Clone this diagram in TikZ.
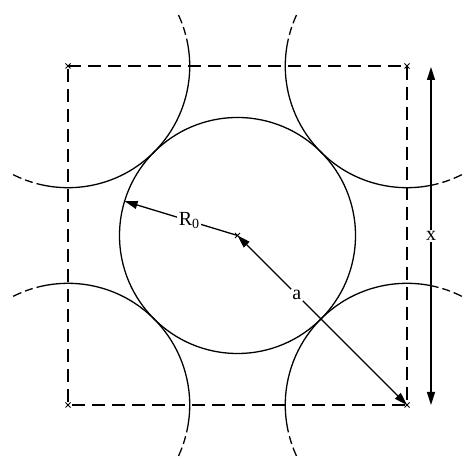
\documentclass[tikz,border=0pt]{standalone}
\usepackage{fontspec}
\setmainfont{Liberation Serif}
\usetikzlibrary{arrows.meta}
\begin{document}
\begin{tikzpicture}[x=1pt,y=1pt,line width=1.3pt,
  sq/.style={dash pattern=on 13pt off 7pt},
  dsh/.style={dash pattern=on 0pt off 4pt on 8pt off 4pt on 9pt off 100pt},
  arr/.style={-{Triangle[length=13pt,width=8pt]}},
  darr/.style={{Triangle[length=13pt,width=8pt]}-{Triangle[length=13pt,width=8pt]}},
  lbl/.style={fill=white,inner sep=1.5pt,font=\fontsize{20}{20}\selectfont},
  xm/.style={line width=0.8pt}]
\useasboundingbox (0,0) rectangle (474,476);
\def\rc{121.7}
\def\rr{118}
\coordinate (tl) at (68,410);
\coordinate (tr) at (407,410);
\coordinate (bl) at (68,71);
\coordinate (br) at (407,71);
\coordinate (c) at (237.5,240.5);
% dashed square
\draw[sq] (tl) -- (tr) -- (br) -- (bl) -- cycle;
% central circle
\draw (c) circle[radius=\rr];
% corner arcs: top-left
\draw (tl) ++(13:\rc) arc[start angle=13,end angle=-105,radius=\rc];
\draw[dsh] (tl) ++(13:\rc) arc[start angle=13,end angle=25,radius=\rc];
\draw[dsh] (tl) ++(-105:\rc) arc[start angle=-105,end angle=-117,radius=\rc];
% top-right
\draw (tr) ++(167:\rc) arc[start angle=167,end angle=285,radius=\rc];
\draw[dsh] (tr) ++(167:\rc) arc[start angle=167,end angle=155,radius=\rc];
\draw[dsh] (tr) ++(285:\rc) arc[start angle=285,end angle=297,radius=\rc];
% bottom-left
\draw (bl) ++(-13:\rc) arc[start angle=-13,end angle=105,radius=\rc];
\draw[dsh] (bl) ++(-13:\rc) arc[start angle=-13,end angle=-25,radius=\rc];
\draw[dsh] (bl) ++(105:\rc) arc[start angle=105,end angle=117,radius=\rc];
% bottom-right
\draw (br) ++(193:\rc) arc[start angle=193,end angle=75,radius=\rc];
\draw[dsh] (br) ++(193:\rc) arc[start angle=193,end angle=205,radius=\rc];
\draw[dsh] (br) ++(75:\rc) arc[start angle=75,end angle=63,radius=\rc];
% cross marks
\foreach \p in {tl,tr,bl,br,c}{
  \draw[xm] (\p) ++(-2.5,-2.5) -- ++(5,5) (\p) ++(-2.5,2.5) -- ++(5,-5);
}
% R0 radius
\path (c) ++(163.1:\rr) coordinate (rp);
\draw[arr] (c) -- node[lbl,pos=0.43]{R\raisebox{-0.35ex}{\fontsize{14}{14}\selectfont 0}} (rp);
% a
\draw[darr] (c) -- node[lbl,pos=0.35]{a} (br);
% x dimension
\coordinate (xt) at (431,409);
\coordinate (xb) at (431,71);
\draw[darr] (xt) -- node[lbl,pos=0.5]{x} (xb);
\end{tikzpicture}
\end{document}
